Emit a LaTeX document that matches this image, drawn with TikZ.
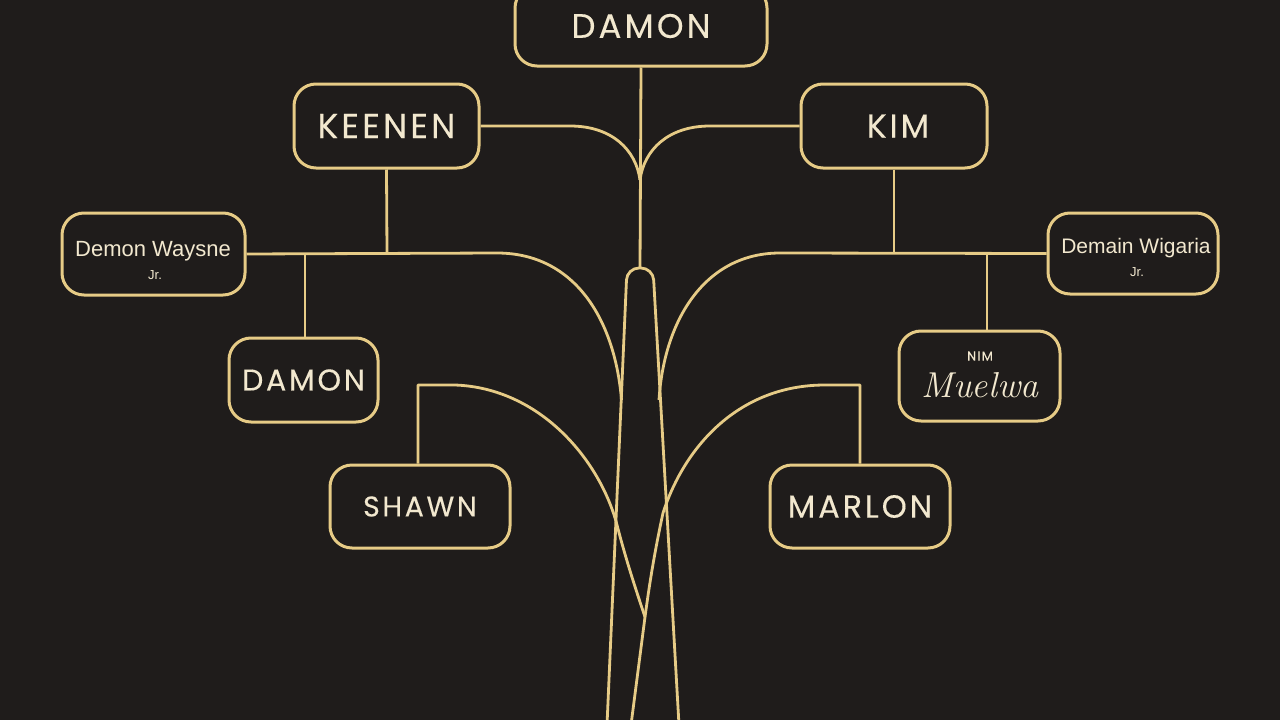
\documentclass[tikz,border=0pt]{standalone}
\usepackage{fontspec}
\newfontfamily\capfont[LetterSpace=9,FakeBold=0.2]{Poppins}
\newfontfamily\smallfont{Liberation Sans}
\definecolor{bg}{HTML}{1F1C1B}
\definecolor{gold}{HTML}{E6CB86}
\definecolor{pale}{HTML}{F2E8CF}
\newcommand{\capsz}[1]{\capfont\fontsize{#1}{#1}\selectfont}
\begin{document}
\begin{tikzpicture}[x=1pt,y=-1pt,
  box/.style={draw=gold, line width=3pt, rounded corners=22pt, fill=bg, inner sep=0pt, text=pale, align=center},
  txt/.style={inner sep=0pt, text=pale, align=center},
  link/.style={draw=gold, line width=2.8pt, line join=round}]
\fill[bg] (0,0) rectangle (1280,720);
\useasboundingbox (0,0) rectangle (1280,720);

% trunk
\coordinate (ttop) at (640,268);
\coordinate (tjoin) at (640,180);
\draw[link, rounded corners=12pt] (607,725) -- (627,268) -- (653,268) -- (679,725);

% nodes
\node[box, font=\capsz{34}, minimum width=252pt, minimum height=80pt] (topD) at (641,26) {DAMON};
\node[box, font=\capsz{34.5}, minimum width=185pt, minimum height=84pt] (KE) at (386.5,126) {KEENEN};
\node[box, minimum width=186pt, minimum height=84pt] (KI) at (894,126) {};
\node[txt, font=\capsz{33}] (KIt) at (898,126) {KIM};
\node[box, minimum width=183pt, minimum height=82pt] (DW) at (153.5,254) {};
\node[txt, font=\smallfont\fontsize{22}{24}\selectfont] (DWt) at (153,251) {Demon Waysne};
\node[txt, font=\smallfont\fontsize{13}{14}\selectfont] (DWj) at (155,275) {Jr.};
\node[box, minimum width=170pt, minimum height=81pt] (DR) at (1133,253.5) {};
\node[txt, font=\smallfont\fontsize{21}{24}\selectfont] (DRt) at (1136,248) {Demain Wigaria};
\node[txt, font=\smallfont\fontsize{13}{14}\selectfont] (DRj) at (1137,272) {Jr.};
\node[box, font=\capsz{30}, minimum width=149pt, minimum height=84pt] (DL) at (303.5,380) {DAMON};
\node[box, minimum width=161pt, minimum height=90pt] (MW) at (979.5,376) {};
\node[txt, font=\capsz{13}] (MWt) at (980,356) {NIM};
\node[txt, font=\itshape\fontsize{36}{38}\selectfont] (MWs) at (980,385) {Muelwa};
\node[box, font=\capsz{28.5}, minimum width=180pt, minimum height=83pt] (SH) at (420,506.5) {SHAWN};
\node[box, font=\capsz{32}, minimum width=180pt, minimum height=83pt] (MA) at (860,506.5) {MARLON};

% connectors
\draw[link] (topD.south) -- (ttop);
\draw[link] (KE.east) -- (570,126) .. controls (612,126) and (636,150) .. (tjoin);
\draw[link] (KI.west) -- (710,126) .. controls (668,126) and (644,150) .. (tjoin);
\draw[link] (KE.south) -- (387,253);
\draw[link] (KI.south) -- (894,253);
\draw[link] (DW.east) -- (497,253) .. controls (575,253) and (615,320) .. (621.5,400);
\draw[link] (DR.west) -- (780,253) .. controls (705,253) and (664,320) .. (659,400);
\draw[link] (305,253) -- (DL.north -| 305,0);
\draw[link] (987,253) -- ([xshift=7.5pt]MW.north);
\coordinate (cross) at (645,617);
\draw[link] ([xshift=-2pt]SH.north) -- (418,385) -- (455,385) .. controls (540,388) and (600,460) .. (617,525) .. controls (626,560) and (636,590) .. (cross);
\draw[link] (MA.north) -- (860,385) -- (825,385) .. controls (740,385) and (685,445) .. (663,513) .. controls (655,550) and (650,580) .. (cross) -- (631,725);
\end{tikzpicture}
\end{document}
